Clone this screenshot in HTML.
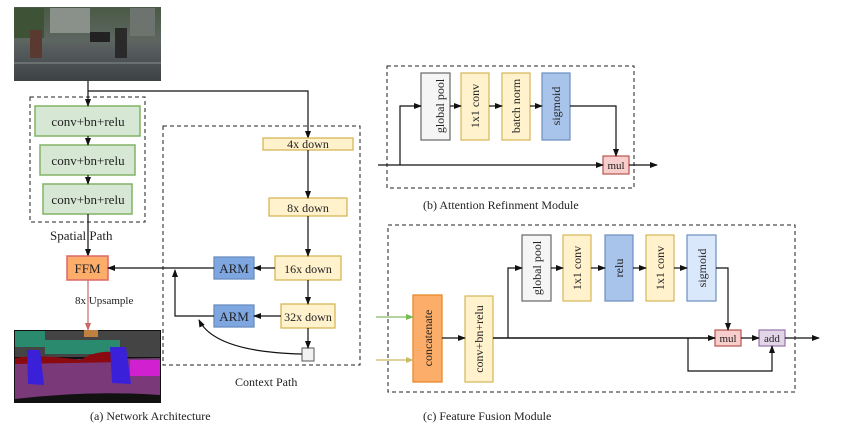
<!DOCTYPE html>
<html><head><meta charset="utf-8"><style>
html,body{margin:0;padding:0;background:#fff;}
svg{display:block;}
text{font-family:"Liberation Serif",serif;fill:#222;}
</style></head><body>
<svg width="841" height="436" viewBox="0 0 841 436" xmlns="http://www.w3.org/2000/svg">
<defs>
<marker id="a" markerWidth="8" markerHeight="6" refX="7" refY="3" orient="auto" markerUnits="userSpaceOnUse"><path d="M0,0 L8,3 L0,6 z" fill="#111"/></marker>
<marker id="ar" markerWidth="8" markerHeight="6" refX="7" refY="3" orient="auto" markerUnits="userSpaceOnUse"><path d="M0,0 L8,3 L0,6 z" fill="#c66"/></marker>
<marker id="ag" markerWidth="8" markerHeight="6" refX="7" refY="3" orient="auto" markerUnits="userSpaceOnUse"><path d="M0,0 L8,3 L0,6 z" fill="#7b5"/></marker>
<marker id="ay" markerWidth="8" markerHeight="6" refX="7" refY="3" orient="auto" markerUnits="userSpaceOnUse"><path d="M0,0 L8,3 L0,6 z" fill="#cb6"/></marker>
<linearGradient id="st" x1="0" y1="0" x2="0" y2="1"><stop offset="0" stop-color="#4a5a45"/><stop offset="0.45" stop-color="#5d6660"/><stop offset="0.6" stop-color="#555a5c"/><stop offset="1" stop-color="#3d4245"/></linearGradient>
</defs>
<rect x="14" y="7" width="147" height="74" fill="url(#st)"/>
<rect x="50" y="8" width="40" height="25" fill="#8a908a"/>
<rect x="130" y="8" width="25" height="28" fill="#6d7470"/>
<rect x="14" y="8" width="30" height="30" fill="#3e5236"/>
<rect x="90" y="32" width="20" height="10" fill="#222"/>
<rect x="30" y="30" width="12" height="28" fill="#5a3a30"/>
<rect x="115" y="28" width="12" height="30" fill="#2a2a2a"/>
<rect x="14" y="62" width="147" height="2" fill="#8a8e8c" opacity="0.5"/>
<rect x="14" y="330" width="147" height="73" fill="#111"/>
<rect x="15" y="331" width="145" height="26" fill="#444"/>
<rect x="15" y="331" width="30" height="16" fill="#2a8a6e"/>
<rect x="45" y="340" width="75" height="14" fill="#2a8a6e"/>
<rect x="84" y="330" width="14" height="7" fill="#c08040"/>
<path d="M15,360 L160,358 L160,395 Q90,390 15,399 z" fill="#7a3a7a"/>
<path d="M15,358 Q40,354 80,360 L90,355 Q110,348 125,356 L125,362 L15,364 z" fill="#8a0a10"/>
<rect x="130" y="360" width="30" height="16" fill="#d020d0"/>
<path d="M27,350 L40,350 L44,385 L28,384z" fill="#3a20d8"/>
<path d="M110,347 L126,347 L131,384 L112,383z" fill="#3a20d8"/>
<rect x="30" y="97" width="115" height="125" fill="none" stroke="#222" stroke-dasharray="4,3"/>
<rect x="35" y="106" width="105" height="30" fill="#d6e8d4" stroke="#82b366" stroke-width="1.5"/>
<rect x="40" y="145" width="95" height="30" fill="#d6e8d4" stroke="#82b366" stroke-width="1.5"/>
<rect x="43" y="184" width="89" height="30" fill="#d6e8d4" stroke="#82b366" stroke-width="1.5"/>
<g font-size="13" text-anchor="middle">
<text x="88" y="126">conv+bn+relu</text><text x="88" y="165">conv+bn+relu</text><text x="88" y="204">conv+bn+relu</text>
</g>
<text x="50" y="240" font-size="13">Spatial  Path</text>
<g stroke="#111" stroke-width="1.2" fill="none">
<path d="M88,81 L88,106" marker-end="url(#a)"/>
<path d="M88,91 L308,91 L308,138" marker-end="url(#a)"/>
<path d="M88,136 L88,145" marker-end="url(#a)"/>
<path d="M88,175 L88,184" marker-end="url(#a)"/>
<path d="M88,214 L88,256" marker-end="url(#a)"/>
</g>
<rect x="67" y="256" width="41" height="24" fill="#fdad6a" stroke="#d66" stroke-width="1.5"/>
<text x="87.5" y="273" font-size="13" text-anchor="middle">FFM</text>
<path d="M88,280 L88,330" stroke="#c66" stroke-width="1.2" marker-end="url(#ar)"/>
<text x="75" y="304" font-size="11">8x Upsample</text>
<rect x="163" y="126" width="197" height="239" fill="none" stroke="#222" stroke-dasharray="4,3"/>
<g fill="#fff2cc" stroke="#d6b656" stroke-width="1.3">
<rect x="263" y="138" width="90" height="12"/><rect x="269" y="198" width="78" height="18"/>
<rect x="275" y="256" width="66" height="24"/><rect x="281" y="304" width="54" height="24"/>
</g>
<g fill="#7ea6e0" stroke="#6c8ebf" stroke-width="1.3"><rect x="214" y="257" width="40" height="22"/><rect x="214" y="305" width="40" height="22"/></g>
<rect x="302" y="348" width="12" height="13" fill="#f2f2f2" stroke="#555"/>
<g font-size="12" text-anchor="middle">
<text x="308" y="148">4x down</text><text x="308" y="212">8x down</text><text x="308" y="273">16x down</text><text x="308" y="321">32x down</text>
<text x="234" y="273" font-size="13">ARM</text><text x="234" y="321" font-size="13">ARM</text>
</g>
<g stroke="#111" stroke-width="1.2" fill="none">
<path d="M308,150 L308,198" marker-end="url(#a)"/>
<path d="M308,216 L308,256" marker-end="url(#a)"/>
<path d="M308,280 L308,304" marker-end="url(#a)"/>
<path d="M308,328 L308,348" marker-end="url(#a)"/>
<path d="M275,268 L254,268" marker-end="url(#a)"/>
<path d="M281,316 L254,316" marker-end="url(#a)"/>
<path d="M214,268 L108,268" marker-end="url(#a)"/>
<path d="M214,316 L175,316 L175,270" marker-end="url(#a)"/>
<path d="M302,354 Q215,352 199,320" marker-end="url(#a)"/>
</g>
<text x="235" y="386" font-size="12">Context Path</text>
<text x="90" y="420" font-size="12">(a) Network Architecture</text>
<rect x="387" y="66" width="247" height="122" fill="none" stroke="#222" stroke-dasharray="4,3"/>
<rect x="421" y="73" width="29" height="67" fill="#f5f5f5" stroke="#666" stroke-width="1.2"/>
<rect x="461" y="73" width="28" height="67" fill="#fff2cc" stroke="#d6b656" stroke-width="1.2"/>
<rect x="502" y="73" width="28" height="67" fill="#fff2cc" stroke="#d6b656" stroke-width="1.2"/>
<rect x="542" y="73" width="28" height="67" fill="#a9c4eb" stroke="#6c8ebf" stroke-width="1.2"/>
<rect x="603" y="156" width="26" height="18" fill="#f8cecc" stroke="#b85450" stroke-width="1.2"/>
<g font-size="12" text-anchor="middle">
<text transform="translate(444,106) rotate(-90)">global pool</text>
<text transform="translate(479,106) rotate(-90)">1x1 conv</text>
<text transform="translate(520,106) rotate(-90)">batch norm</text>
<text transform="translate(560,106) rotate(-90)">sigmoid</text>
<text x="616" y="169" font-size="11">mul</text>
</g>
<g stroke="#111" stroke-width="1.2" fill="none">
<path d="M378,165 L603,165" marker-end="url(#a)"/>
<path d="M400,165 L400,106 L421,106" marker-end="url(#a)"/>
<path d="M450,106 L461,106" marker-end="url(#a)"/>
<path d="M489,106 L502,106" marker-end="url(#a)"/>
<path d="M530,106 L542,106" marker-end="url(#a)"/>
<path d="M570,106 L616,106 L616,156" marker-end="url(#a)"/>
<path d="M629,165 L657,165" marker-end="url(#a)"/>
</g>
<text x="423" y="209" font-size="12">(b) Attention Refinment Module</text>
<rect x="388" y="225" width="407" height="167" fill="none" stroke="#222" stroke-dasharray="4,3"/>
<rect x="413" y="295" width="29" height="87" fill="#fdad6a" stroke="#e88a2a" stroke-width="1.3"/>
<rect x="465" y="296" width="28" height="86" fill="#fff2cc" stroke="#d6b656" stroke-width="1.2"/>
<rect x="522" y="235" width="29" height="66" fill="#f5f5f5" stroke="#666" stroke-width="1.2"/>
<rect x="563" y="235" width="28" height="66" fill="#fff2cc" stroke="#d6b656" stroke-width="1.2"/>
<rect x="605" y="235" width="28" height="66" fill="#a9c4eb" stroke="#6c8ebf" stroke-width="1.2"/>
<rect x="646" y="235" width="28" height="66" fill="#fff2cc" stroke="#d6b656" stroke-width="1.2"/>
<rect x="687" y="235" width="29" height="66" fill="#dae8fc" stroke="#6c8ebf" stroke-width="1.2"/>
<rect x="715" y="330" width="26" height="16" fill="#f8cecc" stroke="#b85450" stroke-width="1.2"/>
<rect x="759" y="330" width="26" height="16" fill="#e1d5e7" stroke="#9673a6" stroke-width="1.2"/>
<g font-size="12" text-anchor="middle">
<text transform="translate(432,338) rotate(-90)">concatenate</text>
<text transform="translate(483,339) rotate(-90)">conv+bn+relu</text>
<text transform="translate(541,268) rotate(-90)">global pool</text>
<text transform="translate(581,268) rotate(-90)">1x1 conv</text>
<text transform="translate(623,268) rotate(-90)">relu</text>
<text transform="translate(664,268) rotate(-90)">1x1 conv</text>
<text transform="translate(706,268) rotate(-90)">sigmoid</text>
<text x="728" y="342" font-size="11">mul</text>
<text x="772" y="342" font-size="11">add</text>
</g>
<path d="M376,317 L413,317" stroke="#8b6" stroke-width="1.2" marker-end="url(#ag)"/>
<path d="M376,360 L413,360" stroke="#cb6" stroke-width="1.2" marker-end="url(#ay)"/>
<g stroke="#111" stroke-width="1.2" fill="none">
<path d="M442,338 L465,338" marker-end="url(#a)"/>
<path d="M493,338 L715,338" marker-end="url(#a)" stroke-width="1.6"/>
<path d="M508,338 L508,268 L522,268" marker-end="url(#a)"/>
<path d="M551,268 L563,268" marker-end="url(#a)"/>
<path d="M591,268 L605,268" marker-end="url(#a)"/>
<path d="M633,268 L646,268" marker-end="url(#a)"/>
<path d="M674,268 L687,268" marker-end="url(#a)"/>
<path d="M716,268 L728,268 L728,330" marker-end="url(#a)"/>
<path d="M741,338 L759,338" marker-end="url(#a)"/>
<path d="M688,338 L688,371 L772,371 L772,346" marker-end="url(#a)"/>
<path d="M785,338 L819,338" marker-end="url(#a)"/>
</g>
<text x="423" y="420" font-size="12">(c) Feature Fusion Module</text>
</svg>
</body></html>
